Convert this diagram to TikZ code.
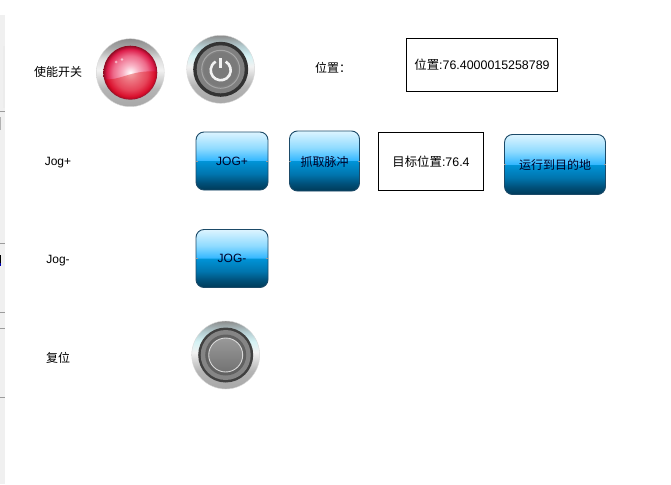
\documentclass[tikz,border=0pt]{standalone}
\usepackage{fontspec}
\setmainfont{Liberation Sans}
\newfontfamily\cjk{Noto Sans CJK SC}
\definecolor{btnA}{HTML}{DDF4FF}
\definecolor{btnA2}{HTML}{8FDBFF}
\definecolor{btnB}{HTML}{30B6FF}
\definecolor{btnC2}{HTML}{0094D8}
\definecolor{btnC}{HTML}{0075AE}
\definecolor{btnD}{HTML}{004F78}
\definecolor{btnE}{HTML}{003A58}
\definecolor{btnline}{HTML}{1B4A68}
\definecolor{mA}{HTML}{8C8C8C}
\definecolor{mB}{HTML}{B4B4B4}
\definecolor{mC}{HTML}{F2F2F2}
\definecolor{mD}{HTML}{DDDDDD}
\definecolor{mE}{HTML}{A8A8A8}
\definecolor{cy}{HTML}{D4F2F4}
\definecolor{cy2}{HTML}{B4CCD0}
\definecolor{rA}{HTML}{F9B4C6}
\definecolor{rB}{HTML}{EE6A8A}
\definecolor{rC}{HTML}{DC1A48}
\definecolor{rD}{HTML}{8E0A22}
\definecolor{stripbg}{HTML}{F0F0F0}
\definecolor{stripline}{HTML}{9C9C9C}
\pgfdeclareverticalshading{btnshade}{100bp}{
  color(0bp)=(btnE); color(25bp)=(btnE); color(31bp)=(btnD); color(39bp)=(btnC); color(50bp)=(btnC2);
  color(50.01bp)=(btnB); color(61bp)=(btnA2); color(75bp)=(btnA); color(100bp)=(btnA)}
\pgfdeclareverticalshading{metal}{100bp}{
  color(0bp)=(mE); color(25bp)=(mE); color(38bp)=(mB); color(52bp)=(mC); color(60bp)=(mD); color(68bp)=(mE); color(75bp)=(mA); color(100bp)=(mA)}
\pgfdeclareverticalshading{metalcyan}{100bp}{
  color(0bp)=(mE); color(25bp)=(mE); color(38bp)=(mB); color(52bp)=(mC); color(60bp)=(cy); color(67bp)=(cy2); color(75bp)=(mA); color(100bp)=(mA)}
\pgfdeclareradialshading{redball}{\pgfpoint{0bp}{0bp}}{
  color(0bp)=(white); color(7bp)=(rA); color(16bp)=(rB); color(22bp)=(rC); color(25bp)=(rD); color(50bp)=(rD)}
\tikzset{
  lbl/.style={font=\fontsize{12}{14}\selectfont\cjk, text=black, inner sep=0pt},
  valbox/.style={draw=black, line width=1pt, fill=white, inner sep=0pt, font=\fontsize{12.4}{14}\selectfont},
  glossbtn/.style={draw=btnline, line width=.9pt, rounded corners=8pt, shading=btnshade, inner sep=0pt,
     font=\fontsize{12}{14}\selectfont\cjk, text=black!85!blue},
  ring/.style={shading=metal, draw=white!70!gray, line width=.4pt},
  ringc/.style={shading=metalcyan, draw=white!70!gray, line width=.4pt},
  notch/.style={draw=gray!80, line width=.8pt},
  stripmark/.style={draw=stripline, line width=1pt},
}
\begin{document}
\begin{tikzpicture}[x=1pt,y=-1pt]
\useasboundingbox (0,0) rectangle (671,484);
% left window strip
\fill[stripbg] (0,15) rectangle (5,484);
\fill[white!85!gray] (3,46) rectangle (5,108);
\fill[gray!60] (0,117) rectangle (1,130);
\fill[black] (0,255) rectangle (1,263);
\fill[blue!70!black] (0,263) rectangle (1,266);
\foreach \yy in {112,243,312,328,397}{\draw[stripmark] (0,\yy) -- (5,\yy);}
% labels
\node[lbl] (lena) at (58,71.5) {使能开关};
\node[lbl] (lpos) at (333,67.5) {位置：};
\node[lbl] (ljp) at (58,163) {\rmfamily Jog+};
\node[lbl] (ljm) at (58,261) {\rmfamily Jog-};
\node[lbl] (lres) at (58,357.5) {复位};
% value boxes
\node[valbox, minimum width=151pt, minimum height=53pt, text height=11pt, text depth=1pt] (posbox) at (482,65) {{\cjk 位置}:76.4000015258789};
\node[valbox, minimum width=105pt, minimum height=58pt, text height=10pt, text depth=1pt] (tgtbox) at (431,161.5) {{\cjk 目标位置}:76.4};
% gloss buttons
\node[glossbtn, minimum width=72pt, minimum height=58pt, text height=10.4pt, text depth=1pt] (jogp) at (232,161) {\rmfamily JOG+};
\node[glossbtn, minimum width=70pt, minimum height=60pt, text height=11pt, text depth=1pt] (grab) at (324.5,161) {抓取脉冲};
\node[glossbtn, minimum width=72pt, minimum height=58pt, text height=9.4pt, text depth=1pt] (jogm) at (232,258.5) {\rmfamily JOG-};
\node[glossbtn, minimum width=101pt, minimum height=60pt, text height=10pt, text depth=1pt] (run) at (555,164.5) {运行到目的地};
\foreach \b in {jogp,grab,jogm,run}{
  \draw[notch] (\b.west) -- ++(2,0);
  \draw[notch] (\b.east) -- ++(-2,0);
}
% red lamp
\path[ring] (130.3,72.7) circle (34);
\path[shading=redball] (130.3,72.7) circle (27);
\begin{scope}
  \clip (130.3,72.7) circle (26);
  \fill[red!85!black, opacity=.35] (100,78) .. controls (118,84) and (130,68) .. (160,72) -- (160,102) -- (100,102) -- cycle;
\end{scope}
\fill[white, opacity=.55] (122,59.5) circle (1.4);
\fill[white, opacity=.5] (116,62) circle (1.5);
% power button
\path[ringc] (220.7,69.3) circle (34);
\fill[black!80] (220.7,69.3) circle (27.5);
\fill[black!50] (220.7,69.3) circle (24);
\draw[black!35, line width=1pt] (220.7,69.3) circle (19);
\fill[black!52] (220.7,69.3) circle (17);
\draw[white!90!gray, line width=2.6pt] (225.7,61.6) arc[start angle=-60, end angle=240, radius=10];
\draw[white!90!gray, line width=2.6pt] (220.7,58.5) -- (220.7,68);
% reset button
\path[ringc] (225.7,355) circle (34);
\fill[black!75] (225.7,355) circle (27.5);
\fill[black!48] (225.7,355) circle (25);
\fill[black!62] (225.7,355) circle (20.5);
\shade[top color=black!40, bottom color=black!55] (225.7,355) circle (17);
\draw[white!70!gray, line width=.9pt] (225.7,355) circle (17);
\end{tikzpicture}
\end{document}
